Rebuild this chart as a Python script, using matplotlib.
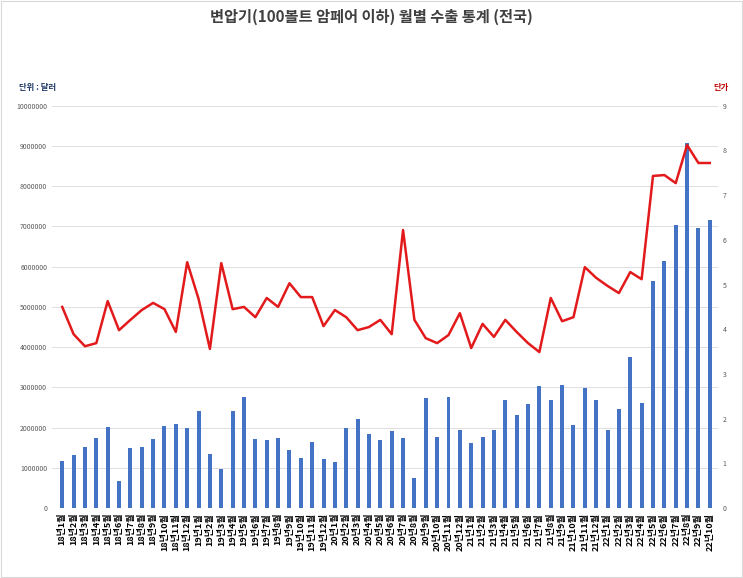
import matplotlib.pyplot as plt
from matplotlib.patches import Rectangle

plt.rcParams['font.family'] = ['Noto Sans CJK JP', 'Noto Sans CJK KR', 'Noto Sans CJK SC', 'DejaVu Sans']

# 18년1월 ~ 22년10월
months = [f"{y}년{m}월" for y in range(18, 23) for m in range(1, 13)][:58]

export_usd = [1.17, 1.32, 1.52, 1.74, 2.01, 0.67, 1.49, 1.52, 1.72, 2.04, 2.09, 1.99,
              2.41, 1.34, 0.97, 2.41, 2.76, 1.72, 1.69, 1.74, 1.44, 1.24, 1.64, 1.22,
              1.14, 1.99, 2.21, 1.84, 1.69, 1.92, 1.74, 0.75, 2.74, 1.77, 2.76, 1.94,
              1.62, 1.77, 1.94, 2.69, 2.31, 2.59, 3.03, 2.69, 3.06, 2.06, 2.99, 2.69,
              1.94, 2.46, 3.76, 2.61, 5.65, 6.14, 7.04, 9.08, 6.97, 7.16]
export_usd = [v * 1e6 for v in export_usd]

unit_price = [4.50, 3.89, 3.62, 3.69, 4.63, 3.98, 4.21, 4.43, 4.59, 4.45, 3.94, 5.50,
              4.68, 3.56, 5.48, 4.45, 4.50, 4.27, 4.70, 4.50, 5.03, 4.72, 4.72, 4.07,
              4.43, 4.27, 3.98, 4.05, 4.21, 3.89, 6.22, 4.21, 3.80, 3.69, 3.87, 4.36,
              3.58, 4.12, 3.83, 4.21, 3.94, 3.69, 3.49, 4.70, 4.18, 4.27, 5.39, 5.15,
              4.97, 4.81, 5.28, 5.12, 7.43, 7.45, 7.27, 8.12, 7.72, 7.72]

fig = plt.figure(figsize=(7.43, 5.78), dpi=100)
ax = fig.add_axes([0.07, 0.121, 0.896, 0.696])
x = range(len(months))
ax.bar(x, export_usd, width=0.35, color='#4472C4', zorder=2)
ax.set_ylim(0, 10000000)
ax.set_yticks(range(0, 10000001, 1000000))
ax.set_yticklabels([str(v) for v in range(0, 10000001, 1000000)], fontsize=5, color='#595959')
ax.grid(axis='y', color='#d9d9d9', linewidth=0.6, zorder=0)
ax.set_xlim(-0.9, len(months) - 0.3)
ax.set_xticks(list(x))
ax.set_xticklabels(months, rotation=90, fontsize=6.5, fontweight='bold')
for s in ax.spines.values():
    s.set_visible(False)
ax.tick_params(length=0)

ax2 = ax.twinx()
ax2.plot(x, unit_price, color='#e31a1c', linewidth=1.8, zorder=3)
ax2.set_ylim(0, 9)
ax2.set_yticks(range(10))
ax2.tick_params(length=0, labelsize=5, labelcolor='#595959')
for s in ax2.spines.values():
    s.set_visible(False)

fig.text(0.5, 0.97, "변압기(100볼트 암페어 이하) 월별 수출 통계 (전국)",
         ha='center', va='center', fontsize=11, fontweight='bold', color='#404040')
fig.text(0.025, 0.845, "단위 : 달러", fontsize=6, fontweight='bold', color='#1f3864')
fig.text(0.96, 0.845, "단가", fontsize=6, fontweight='bold', color='#c00000')
fig.patches.append(Rectangle((0.002, 0.002), 0.996, 0.996, transform=fig.transFigure,
                             fill=False, edgecolor='#d9d9d9', linewidth=0.8))

fig.savefig("out.png", dpi=100)
